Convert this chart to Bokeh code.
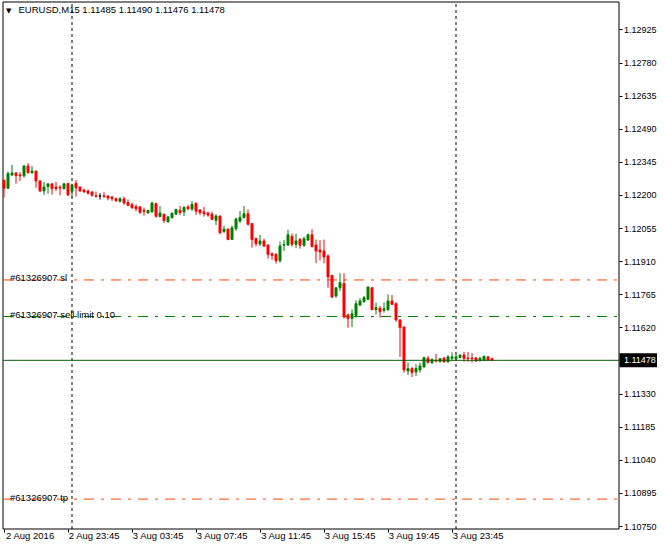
from datetime import datetime, timedelta
from bokeh.plotting import figure
from bokeh.models import (ColumnDataSource, Range1d, LinearAxis, FixedTicker,
                          PrintfTickFormatter, CustomJSTickFormatter, Label)
from bokeh.embed import file_html
from bokeh.resources import INLINE

# ---------------- data ----------------
title_text = "EURUSD,M15  1.11485 1.11490 1.11476 1.11478"
start_time = "2016-08-02 19:45"
bar_minutes = 15

opens = [1.12267, 1.12232, 1.12290, 1.12299, 1.12290, 1.12286, 1.12329, 1.12299, 1.12307, 1.12264,
         1.12220, 1.12239, 1.12251, 1.12237, 1.12236, 1.12230, 1.12253, 1.12218, 1.12253, 1.12237,
         1.12224, 1.12220, 1.12215, 1.12199, 1.12198, 1.12199, 1.12198, 1.12193, 1.12186, 1.12175,
         1.12185, 1.12169, 1.12160, 1.12151, 1.12150, 1.12135, 1.12123, 1.12128, 1.12164, 1.12107,
         1.12118, 1.12084, 1.12103, 1.12118, 1.12135, 1.12129, 1.12150, 1.12141, 1.12166, 1.12137,
         1.12128, 1.12123, 1.12118, 1.12091, 1.12110, 1.12042, 1.12053, 1.12007, 1.12055, 1.12088,
         1.12103, 1.12120, 1.12077, 1.12011, 1.11988, 1.12001, 1.11983, 1.11945, 1.11941, 1.11914,
         1.11982, 1.11983, 1.12021, 1.11986, 1.12007, 1.11982, 1.12005, 1.12028, 1.11983, 1.11961,
         1.11957, 1.11935, 1.11850, 1.11760, 1.11796, 1.11815, 1.11677, 1.11661, 1.11675, 1.11720,
         1.11735, 1.11745, 1.11796, 1.11700, 1.11706, 1.11697, 1.11700, 1.11738, 1.11726, 1.11655,
         1.11624, 1.11431, 1.11442, 1.11427, 1.11436, 1.11449, 1.11487, 1.11468, 1.11478, 1.11472,
         1.11487, 1.11472, 1.11487, 1.11485, 1.11490, 1.11501, 1.11488, 1.11488, 1.11488, 1.11479,
         1.11479, 1.11493, 1.11485]
highs = [1.12269, 1.12305, 1.12334, 1.12302, 1.12302, 1.12334, 1.12342, 1.12329, 1.12308, 1.12265,
         1.12259, 1.12251, 1.12252, 1.12259, 1.12245, 1.12255, 1.12255, 1.12252, 1.12267, 1.12239,
         1.12230, 1.12226, 1.12220, 1.12217, 1.12210, 1.12214, 1.12199, 1.12199, 1.12191, 1.12192,
         1.12195, 1.12183, 1.12169, 1.12161, 1.12154, 1.12147, 1.12136, 1.12173, 1.12169, 1.12154,
         1.12120, 1.12110, 1.12126, 1.12142, 1.12154, 1.12153, 1.12158, 1.12176, 1.12169, 1.12139,
         1.12150, 1.12129, 1.12129, 1.12118, 1.12112, 1.12067, 1.12055, 1.12068, 1.12103, 1.12132,
         1.12154, 1.12139, 1.12078, 1.12015, 1.12028, 1.12011, 1.11986, 1.11950, 1.11948, 1.11998,
         1.12005, 1.12050, 1.12033, 1.12033, 1.12014, 1.12020, 1.12033, 1.12052, 1.12007, 1.12004,
         1.12007, 1.11942, 1.11852, 1.11797, 1.11859, 1.11859, 1.11682, 1.11701, 1.11741, 1.11750,
         1.11760, 1.11802, 1.11798, 1.11731, 1.11716, 1.11731, 1.11767, 1.11764, 1.11731, 1.11657,
         1.11625, 1.11468, 1.11449, 1.11461, 1.11468, 1.11493, 1.11497, 1.11487, 1.11507, 1.11487,
         1.11493, 1.11501, 1.11512, 1.11501, 1.11503, 1.11515, 1.11515, 1.11509, 1.11493, 1.11493,
         1.11497, 1.11497, 1.11490]
lows = [1.12191, 1.12230, 1.12286, 1.12252, 1.12264, 1.12278, 1.12296, 1.12298, 1.12234, 1.12215,
        1.12202, 1.12208, 1.12204, 1.12220, 1.12201, 1.12226, 1.12199, 1.12191, 1.12195, 1.12217,
        1.12211, 1.12205, 1.12195, 1.12191, 1.12182, 1.12191, 1.12179, 1.12176, 1.12172, 1.12169,
        1.12160, 1.12153, 1.12141, 1.12131, 1.12120, 1.12112, 1.12122, 1.12126, 1.12103, 1.12107,
        1.12080, 1.12083, 1.12100, 1.12117, 1.12115, 1.12110, 1.12136, 1.12132, 1.12115, 1.12115,
        1.12107, 1.12107, 1.12091, 1.12071, 1.12030, 1.12036, 1.12004, 1.12006, 1.12045, 1.12081,
        1.12100, 1.12069, 1.11972, 1.11977, 1.11979, 1.11974, 1.11923, 1.11918, 1.11902, 1.11906,
        1.11957, 1.11980, 1.11976, 1.11969, 1.11967, 1.11976, 1.12001, 1.11972, 1.11904, 1.11916,
        1.11903, 1.11796, 1.11752, 1.11752, 1.11782, 1.11661, 1.11621, 1.11624, 1.11665, 1.11716,
        1.11731, 1.11742, 1.11697, 1.11679, 1.11665, 1.11687, 1.11694, 1.11720, 1.11647, 1.11493,
        1.11424, 1.11414, 1.11405, 1.11409, 1.11424, 1.11446, 1.11465, 1.11461, 1.11468, 1.11469,
        1.11468, 1.11466, 1.11478, 1.11478, 1.11487, 1.11472, 1.11472, 1.11468, 1.11471, 1.11472,
        1.11475, 1.11475, 1.11476]
closes = [1.12232, 1.12296, 1.12299, 1.12287, 1.12286, 1.12329, 1.12300, 1.12307, 1.12264, 1.12220,
          1.12237, 1.12251, 1.12230, 1.12230, 1.12233, 1.12251, 1.12202, 1.12246, 1.12234, 1.12220,
          1.12217, 1.12210, 1.12201, 1.12196, 1.12198, 1.12195, 1.12189, 1.12186, 1.12177, 1.12186,
          1.12167, 1.12157, 1.12147, 1.12142, 1.12126, 1.12131, 1.12135, 1.12167, 1.12109, 1.12123,
          1.12090, 1.12106, 1.12122, 1.12139, 1.12125, 1.12148, 1.12142, 1.12161, 1.12132, 1.12125,
          1.12120, 1.12115, 1.12096, 1.12110, 1.12037, 1.12053, 1.12007, 1.12059, 1.12097, 1.12104,
          1.12120, 1.12074, 1.12007, 1.11989, 1.12001, 1.11979, 1.11942, 1.11938, 1.11914, 1.11979,
          1.11985, 1.12028, 1.11986, 1.12001, 1.11982, 1.12011, 1.12028, 1.11977, 1.11957, 1.11953,
          1.11931, 1.11843, 1.11755, 1.11796, 1.11818, 1.11668, 1.11661, 1.11682, 1.11726, 1.11738,
          1.11753, 1.11799, 1.11700, 1.11709, 1.11691, 1.11704, 1.11738, 1.11723, 1.11655, 1.11621,
          1.11436, 1.11442, 1.11424, 1.11442, 1.11453, 1.11490, 1.11468, 1.11481, 1.11475, 1.11485,
          1.11471, 1.11493, 1.11493, 1.11493, 1.11501, 1.11487, 1.11485, 1.11485, 1.11475, 1.11487,
          1.11496, 1.11479, 1.11478]

sl_price = 1.11830
entry_price = 1.11670
tp_price = 1.10870
bid_price = 1.11478
order_labels = ["#61326907 sl", "#61326907 sell limit 0.10", "#61326907 tp"]
order_prices = [sl_price, entry_price, tp_price]

y_ticks = [1.12925, 1.12780, 1.12635, 1.12490, 1.12345, 1.12200, 1.12055, 1.11910,
           1.11765, 1.11620, 1.11330, 1.11185, 1.11040, 1.10895, 1.10750]
x_tick_labels = ["2 Aug 2016", "2 Aug 23:45", "3 Aug 03:45", "3 Aug 07:45",
                 "3 Aug 11:45", "3 Aug 15:45", "3 Aug 19:45", "3 Aug 23:45"]

# ---------------- layout (view window, in bar / price units) ----------------
X_START, X_END = -0.875, 163.375          # 4 px per bar over the 657 px canvas
Y_LOW, Y_HIGH = 1.106843, 1.130542        # price window over the 541 px canvas
PX_Y = (Y_HIGH - Y_LOW) / 541.0           # price per pixel
PX_X = (X_END - X_START) / 657.0          # bars per pixel
chart_left, chart_right = X_START + 2.5 * PX_X, X_START + 618.5 * PX_X
chart_top, chart_bottom = Y_HIGH - 1.5 * PX_Y, Y_HIGH - 528.5 * PX_Y

# ---------------- derived ----------------
n = len(opens)
t0 = datetime.strptime(start_time, "%Y-%m-%d %H:%M")
times = [t0 + timedelta(minutes=bar_minutes * i) for i in range(n)]
idx = list(range(n))
sep_idx = [i for i, t in enumerate(times) if t.hour == 0 and t.minute == 0]

UP, DOWN, DOJI = "#008000", "#FF0000", "#000000"
colors = [UP if c > o else (DOWN if c < o else DOJI) for o, c in zip(opens, closes)]

src = ColumnDataSource(dict(
    x=idx, open=opens, high=highs, low=lows, close=closes,
    top=[max(o, c) for o, c in zip(opens, closes)],
    bottom=[min(o, c) for o, c in zip(opens, closes)],
    color=colors))

FONT = "Liberation Sans"
FS = "9.5px"
FS_Y = "9px"
SLTP = "#FF4500"
DASHDOT = "10 7 3 7"

p = figure(width=657, height=541, output_backend="svg", toolbar_location=None,
           x_range=Range1d(X_START, X_END), y_range=Range1d(Y_LOW, Y_HIGH),
           x_axis_location=None, y_axis_location=None,
           min_border_left=0, min_border_top=0, min_border_right=0, min_border_bottom=0)
p.grid.visible = False
p.outline_line_color = None
p.background_fill_color = "white"
p.border_fill_color = "white"

# price axis, pinned to the chart's right edge
yax = LinearAxis(fixed_location=chart_right,
                 ticker=FixedTicker(ticks=y_ticks, minor_ticks=[]),
                 formatter=PrintfTickFormatter(format="%.5f"),
                 major_tick_out=3, major_tick_in=0, minor_tick_out=0, minor_tick_in=0,
                 major_label_standoff=2, axis_line_color=None,
                 major_tick_line_color="black",
                 major_label_text_font=FONT, major_label_text_font_size=FS_Y,
                 major_label_text_color="black")
p.add_layout(yax, "right")

# time axis, pinned to the chart's bottom edge: tick marks at bars, labels just right of them
tick_idx = list(range(0, n, 16))
label_shift = 6.6
xax = LinearAxis(fixed_location=chart_bottom,
                 ticker=FixedTicker(ticks=[i + label_shift for i in tick_idx], minor_ticks=tick_idx),
                 formatter=CustomJSTickFormatter(args=dict(labels=x_tick_labels),
                                                 code="return labels[index] || '';"),
                 major_tick_out=0, major_tick_in=0, minor_tick_out=3, minor_tick_in=0,
                 minor_tick_line_color="black", axis_line_color=None,
                 major_label_standoff=-2,
                 major_label_text_font=FONT, major_label_text_font_size=FS,
                 major_label_text_color="black")
p.add_layout(xax, "below")

# chart border
p.quad(left=chart_left, right=chart_right, bottom=chart_bottom, top=chart_top,
       fill_color=None, line_color="black", line_width=1)

# day separators
p.segment(x0=sep_idx, y0=[chart_bottom] * len(sep_idx), x1=sep_idx, y1=[chart_top] * len(sep_idx),
          line_color="black", line_width=1, line_dash="3 3")

# order lines
p.segment(x0=[chart_left] * 3, y0=order_prices, x1=[chart_right] * 3, y1=order_prices,
          line_color=[SLTP, "#008000", SLTP], line_width=1, line_dash=DASHDOT)

# candles
p.segment(x0="x", y0="low", x1="x", y1="high", color="color", line_width=1, source=src)
p.vbar(x="x", width=0.5, top="top", bottom="bottom", fill_color="color",
       line_color="color", line_width=1, source=src)

# bid line and its price box on the axis
p.segment(x0=[chart_left], y0=[bid_price], x1=[chart_right], y1=[bid_price],
          line_color="#0B5D0B", line_width=1)
p.quad(left=chart_right + 0.5 * PX_X, right=X_END, bottom=bid_price - 7 * PX_Y,
       top=bid_price + 7 * PX_Y, fill_color="black", line_color=None)
p.add_layout(Label(x=chart_right, y=bid_price, text="%.5f" % bid_price, x_offset=5,
                   text_font=FONT, text_font_size=FS_Y, text_color="white",
                   text_align="left", text_baseline="middle"))

for lab, price in zip(order_labels, order_prices):
    p.add_layout(Label(x=chart_left, y=price, text=lab, x_offset=7, y_offset=2,
                       text_font=FONT, text_font_size=FS, text_color="black",
                       text_align="left", text_baseline="alphabetic"))

# title
p.add_layout(Label(x=chart_left, y=chart_top, text="\u25BC", x_offset=3, y_offset=-5,
                   text_font="DejaVu Sans", text_font_size="7px", text_color="black",
                   text_align="left", text_baseline="top"))
p.add_layout(Label(x=chart_left, y=chart_top, text=title_text, x_offset=15.5, y_offset=-2,
                   text_font=FONT, text_font_size=FS, text_color="black",
                   text_align="left", text_baseline="top"))

open("out.html", "w").write(file_html(p, INLINE))
